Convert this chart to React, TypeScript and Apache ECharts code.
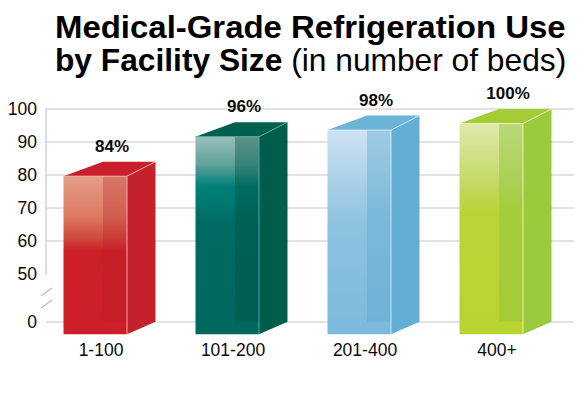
import { useEffect, useRef } from 'react';
import * as echarts from 'echarts';

// data
const categories = ['1-100', '101-200', '201-400', '400+'];
const shares = [84, 96, 98, 100];

const FONT = '"Liberation Sans", Arial, Helvetica, sans-serif';

// one look per bar: front gradient, see-through back, side, top, edge highlight
const palette = [
    {
        front: [
            { offset: 0, color: '#e59d86' },
            { offset: 0.25, color: '#dc7a63' },
            { offset: 0.4, color: '#d0453a' },
            { offset: 0.47, color: '#cc2029' },
            { offset: 1, color: '#cd1f29' },
        ],
        back: '#b81d26', backOpacity: 0.3, side: '#c4212a', top: '#c81f2a', edge: '#f3c2ae',
    },
    {
        front: [
            { offset: 0, color: '#9abfb9' },
            { offset: 0.14, color: '#5fa39b' },
            { offset: 0.25, color: '#00807a' },
            { offset: 0.45, color: '#006b62' },
            { offset: 1, color: '#00685e' },
        ],
        back: '#00503f', backOpacity: 0.4, side: '#005c4b', top: '#005f4f', edge: '#5fb3a8',
    },
    {
        front: [
            { offset: 0, color: '#cde3f1' },
            { offset: 0.45, color: '#8ec3e0' },
            { offset: 1, color: '#7db9db' },
        ],
        back: '#5aa8cf', backOpacity: 0.4, side: '#63afd3', top: '#6bb4d7', edge: '#dceef8',
    },
    {
        front: [
            { offset: 0, color: '#dfe9ac' },
            { offset: 0.3, color: '#c3d860' },
            { offset: 0.42, color: '#b9d435' },
            { offset: 1, color: '#b8d432' },
        ],
        back: '#8ec33e', backOpacity: 0.45, side: '#9bca3c', top: '#a6cc35', edge: '#f0f6cc',
    },
];

export default function App() {
    const chartRef = useRef<HTMLDivElement>(null);

    useEffect(() => {
        document.body.style.margin = '0';
        if (!chartRef.current) return;
        const chart = echarts.init(chartRef.current, null, { renderer: 'svg' });

        const option = {
            animation: false,
            backgroundColor: '#ffffff',
            grid: { left: 46, right: 11, top: 109, bottom: 78.3, outerBoundsMode: 'none' },
            xAxis: {
                type: 'category',
                data: categories,
                axisLine: { show: false },
                axisTick: { show: false },
                axisLabel: {
                    color: '#0a0a0a',
                    fontSize: 17.5,
                    fontFamily: FONT,
                    margin: 28,
                    verticalAlign: 'middle',
                    padding: [0, 22, 0, 0],
                },
            },
            yAxis: {
                type: 'value',
                min: 0,
                max: 100,
                interval: 10,
                breaks: [{ start: 0, end: 50, gap: 14.6 }],
                breakArea: { show: false },
                axisLine: { show: true, lineStyle: { color: '#d2d2d2', width: 1.5 } },
                axisTick: { show: false },
                splitLine: { lineStyle: { color: '#d9d9d9', width: 1.5 } },
                axisLabel: { color: '#0a0a0a', fontSize: 17.5, fontFamily: FONT, margin: 9 },
            },
            graphic: [
                {
                    type: 'text',
                    x: 55,
                    y: 27,
                    scaleX: 1.08,
                    style: {
                        text: 'Medical-Grade Refrigeration Use',
                        fontSize: 30.5,
                        fontWeight: 'bold',
                        fontFamily: FONT,
                        fill: '#000',
                        verticalAlign: 'middle',
                    },
                },
                {
                    type: 'text',
                    x: 55,
                    y: 61,
                    scaleX: 1.04,
                    style: {
                        text: '{b|by Facility Size} {n|(in number of beds)}',
                        fontSize: 30.5,
                        fontFamily: FONT,
                        fill: '#000',
                        verticalAlign: 'middle',
                        rich: {
                            b: { fontWeight: 'bold', fontSize: 30.5, fontFamily: FONT },
                            n: { fontWeight: 'normal', fontSize: 30.5, fontFamily: FONT },
                        },
                    },
                },
                // axis break marks
                { type: 'rect', shape: { x: 43, y: 293, width: 7, height: 11 }, style: { fill: '#fff' } },
                { type: 'line', shape: { x1: 41, y1: 296, x2: 52, y2: 288 }, style: { stroke: '#bdbdbd', lineWidth: 1.3 } },
                { type: 'line', shape: { x1: 41, y1: 308, x2: 52, y2: 300 }, style: { stroke: '#bdbdbd', lineWidth: 1.3 } },
            ],
            series: [
                {
                    type: 'custom',
                    data: shares.map((v, i) => [i, v]),
                    encode: { x: 0, y: 1 },
                    renderItem: (params: any, api: any) => {
                        const idx = api.value(0) as number;
                        const v = api.value(1) as number;
                        const top = api.coord([idx, v]);
                        const base = api.coord([idx, 0]);
                        const cx = top[0];
                        const fl = cx - 48.5;
                        const fr = cx + 15;
                        const bl = cx - 9;
                        const br = cx + 43.5;
                        const bt = top[1];
                        const bb = base[1];
                        const ft = bt + 14.5;
                        const fb = bb + 12.5;
                        const c = palette[idx];
                        return {
                            type: 'group',
                            children: [
                                {
                                    type: 'rect',
                                    shape: { x: fl, y: ft, width: fr - fl, height: fb - ft },
                                    style: { fill: new echarts.graphic.LinearGradient(0, 0, 0, 1, c.front) },
                                },
                                {
                                    type: 'rect',
                                    shape: { x: bl, y: ft, width: fr - bl, height: bb - ft },
                                    style: { fill: c.back, opacity: c.backOpacity },
                                },
                                {
                                    type: 'polygon',
                                    shape: { points: [[fr, ft], [br, bt], [br, bb], [fr, fb]] },
                                    style: { fill: c.side },
                                },
                                {
                                    type: 'polygon',
                                    shape: { points: [[fl, ft], [bl, bt], [br, bt], [fr, ft]] },
                                    style: { fill: c.top },
                                },
                                {
                                    type: 'polyline',
                                    shape: { points: [[fl, ft], [fr, ft], [br, bt]] },
                                    style: { stroke: c.edge, lineWidth: 1, fill: null, opacity: 0.85 },
                                },
                                {
                                    type: 'line',
                                    shape: { x1: fr, y1: ft, x2: fr, y2: fb },
                                    style: { stroke: c.edge, lineWidth: 1, opacity: 0.85 },
                                },
                                {
                                    type: 'text',
                                    x: cx,
                                    y: bt - 15.5,
                                    style: {
                                        text: v + '%',
                                        fontSize: 17,
                                        fontWeight: 'bold',
                                        fontFamily: FONT,
                                        fill: '#0a0a0a',
                                        align: 'center',
                                        verticalAlign: 'middle',
                                    },
                                },
                            ],
                        };
                    },
                },
            ],
        };

        chart.setOption(option as any);
        return () => {
            chart.dispose();
        };
    }, []);

    return <div ref={chartRef} style={{ width: 585, height: 400 }} />;
}
